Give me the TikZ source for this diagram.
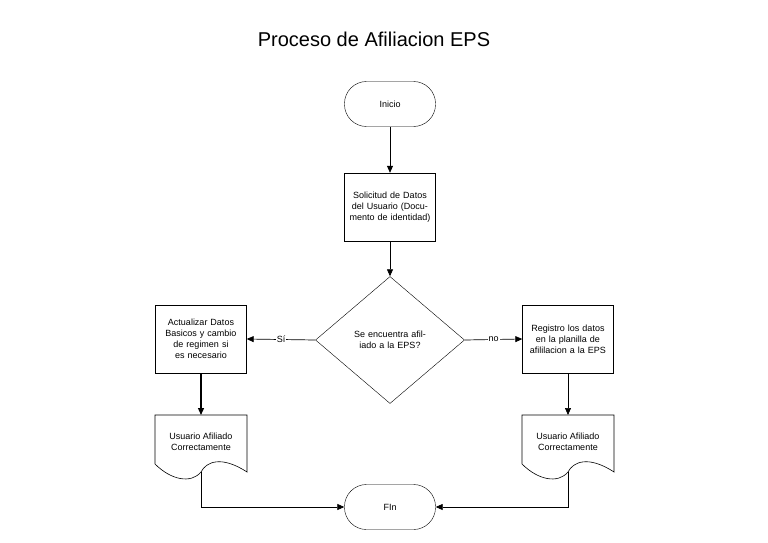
\documentclass[tikz,border=0pt]{standalone}
\usepackage{fontspec}
\setmainfont{Liberation Sans}
\usetikzlibrary{shapes.geometric,arrows.meta}
\begin{document}
\begin{tikzpicture}[x=1pt,y=-1pt,
  every node/.style={font=\fontsize{9}{11}\selectfont, align=center},
  proc/.style={draw, minimum width=91pt, minimum height=68pt, inner sep=2pt, text width=85pt},
  term/.style={draw, rounded corners=22pt, minimum width=91pt, minimum height=45pt},
  dec/.style={draw, diamond, minimum width=149pt, minimum height=127pt, inner sep=0pt, text width=95pt},
  arr/.style={-{Triangle[length=7pt,width=6pt]}, line width=0.7pt},
  lbl/.style={fill=white, inner sep=1pt}]
\useasboundingbox (0,0) rectangle (768,543);
\node[font=\fontsize{20}{24}\selectfont] (title) at (374,39) {Proceso de Afiliacion EPS};
\node[term] (ini) at (390,104) {Inicio};
\node[proc] (sol) at (390,207) {Solicitud de Datos del Usuario (Documento de identidad)};
\node[dec] (d) at (390,340) {Se encuentra afiliado a la EPS?};
\node[proc] (act) at (201,339) {Actualizar Datos Basicos y cambio de regimen si es necesario};
\node[proc] (reg) at (568,339) {Registro los datos en la planilla de afililacion a la EPS};
\node[term] (fin) at (390,507) {FIn};
% documents
\foreach \n/\cx in {docl/201, docr/568}{
  \draw[line width=0.6pt] (\cx-46,415) -- (\cx+46,415) -- (\cx+46,472)
    .. controls (\cx+20,455) and (\cx+5,462) .. (\cx,472)
    .. controls (\cx-10,484) and (\cx-30,480) .. (\cx-46,464) -- cycle;
  \coordinate (\n) at (\cx,415);
  \coordinate (\n b) at (\cx,472);
  \node (\n t) at (\cx,442) {Usuario Afiliado\\Correctamente};
}
\draw[arr] (ini) -- (sol);
\draw[arr] (sol) -- (d);
\draw[arr] (d.west) -- node[lbl] {Sí} (act.east);
\draw[arr] (d.east) -- node[lbl] {no} (reg.east -| reg.west);
\draw[arr, line width=1.3pt] (act) -- (docl);
\draw[arr] (reg) -- (docr);
\draw[arr] (doclb) |- (fin.west);
\draw[arr] (docrb) |- (fin.east);
\end{tikzpicture}
\end{document}
